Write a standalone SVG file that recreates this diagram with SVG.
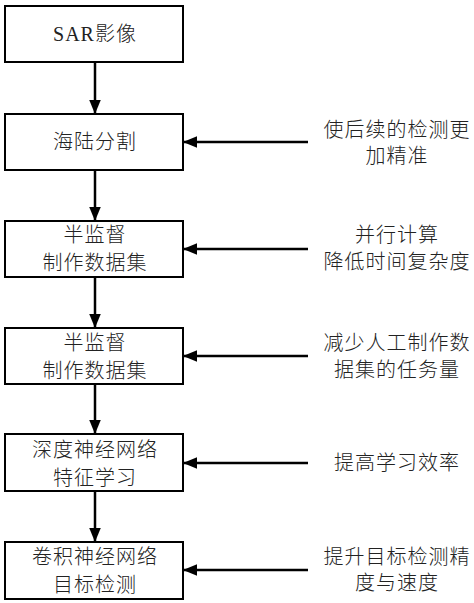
<svg xmlns="http://www.w3.org/2000/svg" width="474" height="603" viewBox="0 0 474 603">
<defs>
<marker id="ah" markerWidth="14" markerHeight="18" refX="17" refY="7" viewBox="0 0 17 14" markerUnits="userSpaceOnUse" orient="auto">
<path d="M0,0 L17,7 L0,14 Z" fill="#000"/>
</marker>
</defs>
<style>
.box{fill:#fff;stroke:#000;stroke-width:2}
.t{font-family:"Liberation Serif","Noto Sans CJK SC",serif;font-size:20px;font-weight:300;letter-spacing:1px;fill:#222;text-anchor:middle;dominant-baseline:central}
.c{stroke:#000;stroke-width:2.5;fill:none}
</style>
<rect width="474" height="603" fill="#fff"/>
<g id="connectors">
<line class="c" x1="95" y1="62" x2="95" y2="114" marker-end="url(#ah)"/>
<line class="c" x1="95" y1="170" x2="95" y2="221" marker-end="url(#ah)"/>
<line class="c" x1="95" y1="277" x2="95" y2="328" marker-end="url(#ah)"/>
<line class="c" x1="95" y1="384" x2="95" y2="434" marker-end="url(#ah)"/>
<line class="c" x1="95" y1="491" x2="95" y2="542" marker-end="url(#ah)"/>
<line class="c" x1="308" y1="142" x2="183" y2="142" marker-end="url(#ah)"/>
<line class="c" x1="308" y1="249" x2="183" y2="249" marker-end="url(#ah)"/>
<line class="c" x1="308" y1="356" x2="183" y2="356" marker-end="url(#ah)"/>
<line class="c" x1="308" y1="463" x2="183" y2="463" marker-end="url(#ah)"/>
<line class="c" x1="308" y1="570" x2="183" y2="570" marker-end="url(#ah)"/>
</g>
<g id="n1"><rect class="box" x="5" y="6" width="178" height="56"/><text class="t" x="95" y="34">SAR影像</text></g>
<g id="n2"><rect class="box" x="5" y="114" width="178" height="56"/><text class="t" x="95" y="142">海陆分割</text></g>
<g id="n3"><rect class="box" x="5" y="221" width="178" height="56"/><text class="t" x="95" y="235">半监督</text><text class="t" x="95" y="263">制作数据集</text></g>
<g id="n4"><rect class="box" x="5" y="328" width="178" height="56"/><text class="t" x="95" y="343">半监督</text><text class="t" x="95" y="371">制作数据集</text></g>
<g id="n5"><rect class="box" x="5" y="434" width="178" height="57"/><text class="t" x="95" y="450">深度神经网络</text><text class="t" x="95" y="478">特征学习</text></g>
<g id="n6"><rect class="box" x="5" y="542" width="178" height="57"/><text class="t" x="95" y="557">卷积神经网络</text><text class="t" x="95" y="585">目标检测</text></g>
<g id="r1"><text class="t" x="397" y="130">使后续的检测更</text><text class="t" x="397" y="156">加精准</text></g>
<g id="r2"><text class="t" x="397" y="235">并行计算</text><text class="t" x="397" y="262">降低时间复杂度</text></g>
<g id="r3"><text class="t" x="397" y="343">减少人工制作数</text><text class="t" x="397" y="370">据集的任务量</text></g>
<g id="r4"><text class="t" x="397" y="463">提高学习效率</text></g>
<g id="r5"><text class="t" x="397" y="557">提升目标检测精</text><text class="t" x="397" y="583">度与速度</text></g>
</svg>
